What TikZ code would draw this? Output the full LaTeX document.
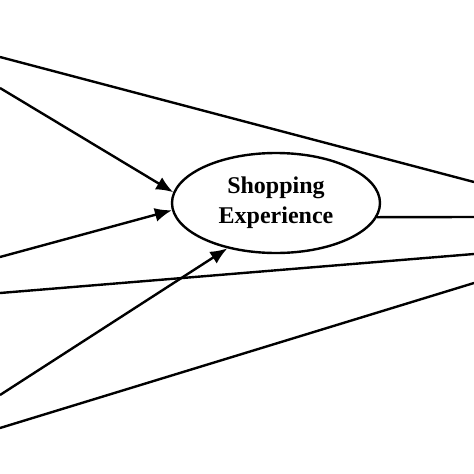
\documentclass[tikz,border=0pt]{standalone}
\usepackage{fontspec}
\setmainfont{Liberation Serif}
\usetikzlibrary{shapes.geometric,arrows.meta}

\begin{document}
\begin{tikzpicture}[x=1pt,y=-1pt,
  latent/.style={ellipse, draw=black, line width=2.4pt, minimum width=208pt, minimum height=100pt,
    inner sep=0pt, align=center, font=\bfseries\fontsize{24}{30}\selectfont},
  path/.style={line width=2.4pt},
  >={Latex[length=17pt,width=14pt]},
]
\useasboundingbox (0,0) rectangle (474,474);

\node(exp) [latent] at (276,203){Shopping\\Experience};

\coordinate(l1) at (0,57);
\coordinate(l2) at (0,88);
\coordinate(l3) at (0,257);
\coordinate(l4) at (0,293);
\coordinate(l5) at (0,395);
\coordinate(l6) at (0,428);

\coordinate(r1) at (474,182);
\coordinate(r2) at (474,217);
\coordinate(r3) at (474,254);
\coordinate(r4) at (474,283);

\draw[path] (l1) -- (r1);
\draw[path,->] (l2) -- (exp.174);
\draw[path,->] (l3) -- (exp.184);
\draw[path] (l4) -- (r3);
\draw[path,->] (l5) -- (exp.223);
\draw[path] (l6) -- (r4);
\draw[path] (exp.-8) -- (r2);

\end{tikzpicture}
\end{document}
